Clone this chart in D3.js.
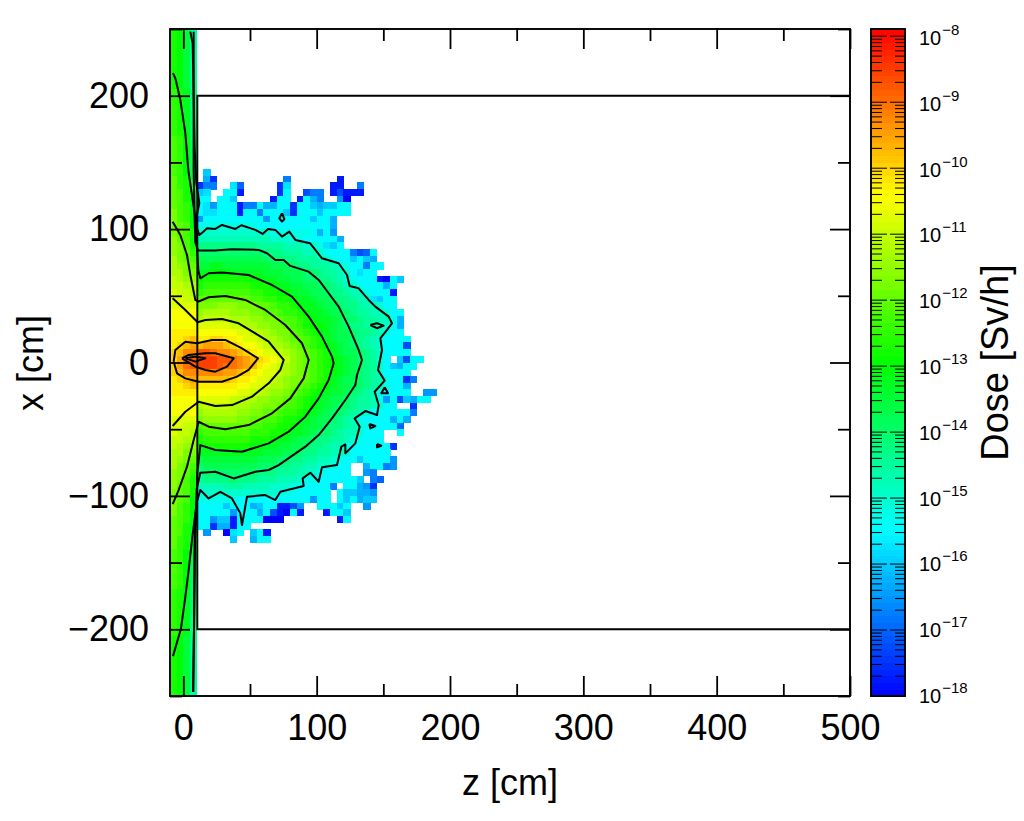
<!DOCTYPE html>
<html>
<head>
<meta charset="utf-8">
<script src="https://cdn.jsdelivr.net/npm/d3@7"></script>
<style>
  html, body { margin: 0; padding: 0; background: #fff; }
  text { font-family: "Liberation Sans", Arial, sans-serif; fill: #000; }
</style>
</head>
<body>
<div id="chart"></div>
<script>
// level characters: index in this alphabet * 0.25 decades above 10^-18, "." = no score
const levelAlphabet = "0123456789abcdefghijklmnopqrstuvwxyzABCD";
const levelStep = 0.25;
const cellSize = 5;

// the four columns in front of the wall, z = -10 .. 10, rows x = 250 .. -250
const frontColumnStarts = [-10, -5, 0, 5];
const frontColumn0 = "lllllllllmmmmmmmnnnnnnoooooppppqqqrrrsstttuuuvvvwwwwvvvuuutttssrrrqqqppppooooonnnnnnmmmmmmmlllllllll";
const frontColumn1 = "kkkkkkkkklllllllmmmmmmmmnnnnnooopppqrrssttuuuvvwxyyxwvvuuuttssrrqpppooonnnnnmmmmmmmmlllllllkkkkkkkkk";
const frontColumn2 = "iiiiiiiiijjjjjjjkkkkkkllllmmmnnnnooppqrsstuuuvwxzAAzxwvuuutssrqppoonnnnmmmllllkkkkkkjjjjjjjiiiiiiiii";
const frontColumn3 = "eeeeeeeeffffggggghhhhiiijjjkkklllmnopqrrstuuuvxyzBBzyxvuuutsrrqponmlllkkkjjjiiihhhhgggggffffeeeeeeee";

// scored cells behind the wall, first column z = 10, first row top edge x = 145
const bodyFirstZ = 10;
const bodyTopX = 145;
const bodyRows = [
  ".8.................................",
  ".72..........5.......1.............",
  "255..94.....29......11..5..........",
  "89..aa1.....2a..355.13111..........",
  "aa.aa8.....1aa.1a75..60............",
  "a96aaa155a77aa2aa8788aa............",
  "a99aaa1aa5aaa82aaa8aaaa............",
  "6aaaaaaaaa6aaaaaa8aa7..............",
  "bbbbbbbbbaaaaaaaaaaa7..............",
  "cccccccccccbbbbbba7a6..............",
  "dddddddddddcccbbaaaaa7.............",
  "fffffffffeeeedddccb98a.............",
  "ggggggggggfffeeeddcbaaa534a........",
  "hhhhhhhhhhgggffeeedcbaa8a87........",
  "iijjiiiiiiihhhgffeeedcbaa5aa.......",
  "jjkkkjjjjjiiihhhggfeedca9aa........",
  "klllllllkkjjiihhggffedcbaaa10a8....",
  "lmmmmmmmlllkjjiihhggfedcbaaa7a.....",
  "mnnnnnnnmmllkkjiihhgffeddbaaa1.....",
  "oooooooonnmmllkjjihhgffedd98aa.....",
  "pppqqqpppoonmmlkjjihhgffeddcaa.....",
  "qrrrrqqqppoonmmlkjjihhgfeeddcaa....",
  "rssssrrrqqpponnmlkjjihggfeeddb7....",
  "tttttssrrqqpponmlkkjihgffeedcb7....",
  "uuuuuuttssrqpponmlkjihhgffedbaa....",
  "vvwwvvuttsrrqpoonmljihhgfedcaaaa...",
  "xyyyxwvuutsrrqponmlkjihgfedcaaa3...",
  "BBAzzyxwvuttsrqponmljihhgfecaaaa...",
  "CCCBBAzyxwvutsqponmlkjihgfeca.83aa.",
  "CCCBAAzyxvutsrqponmlkjihgfeca87aa..",
  "zzzzyyxwvuttsrqponmlkjihgfecaaaa...",
  "xxxxxwvvuttsrqpponmljihhgfedbaa25..",
  "vvvvvvuuttsrrqponmlkjihhgfedbaa7...",
  "uuuuuuttssrqqponmlkjiihgfedbaaaa..66",
  "tttttssrrqqpponmlkjihhgfeedb6a387aa",
  "rssssrrrqqpponnmlkjihggfeedcaa..2..",
  "qrrrrrqqppoonmmlkjihggfedcaaaaaa5..",
  "pqqqqqppoonnmllkjihhgfedbaaaa7a7...",
  "nooooooonnmmllkjiihgffedcbaaaa4....",
  "mnnnnnnnmmmllkjjihggfeddcaaa..a....",
  "lmmmmmmmlllkjjihhgffeedcbaaa.......",
  "klllllllkkjjiihhgffeddbaaaaaa2.....",
  "jjjjjjjjjjiiihhgffeeddcaaaaaa......",
  "hiiiiiiiihhhggffeeddcbaa8aaaa6.....",
  "ghhhhhhhhgggffeeddccbaa..7aa56.....",
  "fggggggggfffeeeddcbaaaa..65........",
  "effffgfffeeedddcbbaaaaaa8.54.......",
  "ddddeeeddddcccbbaaaa5.aa762........",
  "bcccccccccccbbbaaaaa.a88776........",
  "bbbbbbaaaaaaaaaaa6aa.a8a788........",
  "aaaa8aaa78aa1136..aaa8a..6.........",
  "aaaaa6aaa7a310a1...1aa8............",
  "aa6881aaaa000........1a............",
  "aa2771aa...........................",
  ".6..09a.8a1........................",
  ".....8..7aa........................"
];

// contour lines, [z, x] in cm
const contour1e15 = [[5.25,248],[7,239],[7.75,200],[8.5,160],[9.75,134.6],[12,119.5],[9.5,107],[10.5,100],[12,95.6],[15,98],[17.75,100.6],[24,100.1],[29,103.1],[39,100.1],[43.5,102.9],[54,99.4],[59.5,96.4],[63.5,100.1],[69,99.4],[74,94.4],[79.5,98.1],[84,91.9],[95,89.4],[104,78.1],[116.5,74.4],[122.75,65.6],[124.75,57.4],[131.5,55.6],[139,46.9],[144,41.9],[154,34.4],[156.5,29.4],[152.75,24.4],[147.75,18.1],[149,9.4],[146,-5.6],[151,-13.6],[143.5,-21.9],[146.5,-31.9],[145.25,-39.4],[136.5,-36.4],[128.5,-41.9],[132.25,-48.1],[129,-60.6],[121.5,-68.1],[121.5,-61.4],[118.5,-63.1],[115.25,-76.9],[104,-78.6],[101.5,-89.4],[95.25,-82.6],[89.5,-86.9],[90.25,-92.6],[72.75,-96.9],[69,-103.1],[61.5,-99.4],[47.75,-100.6],[44,-121.9],[42.75,-113.1],[36.5,-101.9],[27.75,-96.9],[19,-101.9],[12.75,-95.6],[10,-105],[8.5,-133],[8,-200],[7.5,-247]];
const contour1e15Island0 = [[74,111.9],[75.75,107.4],[74,105.6],[72,108.1],[74,111.9]];
const contour1e15Island1 = [[140.25,28.1],[145.25,29.4],[150.25,27.6],[145.25,25.7],[140.25,28.1]];
const contour1e15Island2 = [[151,-18.6],[153.5,-23.1],[148.5,-23.1],[151,-18.6]];
const contour1e15Island3 = [[139.5,-46.1],[144,-47.6],[140.25,-49.4],[139.5,-46.1]];
const contour1e15Island4 = [[145.25,-61.1],[148.5,-62.4],[145.25,-63.6],[145.25,-61.1]];
const contour1e14 = [[7.75,248],[7.75,144],[8.5,107],[9,90],[11,84],[12.75,83.9],[24,83.9],[36.5,84.9],[56.5,84.4],[62.75,81.9],[69,76.9],[75.25,76.9],[80.25,72.4],[94,68.1],[101.5,61.9],[109,51.9],[116.5,41.9],[124,26.9],[131.5,9.4],[134,1.9],[130.25,-9.4],[129,-16.9],[121.5,-28.1],[111.5,-41.9],[101.5,-54.4],[91.5,-63.1],[71.5,-76.9],[64,-80.6],[54,-81.9],[37.75,-86.9],[24,-81.9],[12.75,-82.6],[10,-95],[8.75,-133],[8,-200],[7.25,-247]];
const contour1e13 = [[-7.75,216.9],[-6,213.1],[-2.25,196.9],[1.5,171.9],[3.75,144],[9.2,107],[11.25,69],[12.75,63.1],[19,66.9],[29,67.4],[49,65.6],[66.5,58.1],[81.5,49.4],[94,34.4],[104,19.4],[111.5,4.4],[112.75,-0.6],[109,-13.1],[101.5,-26.9],[91.5,-40.6],[79,-51.9],[64,-60.6],[44,-66.9],[24,-65.6],[12.75,-61.9],[10.25,-85.6],[10.25,-103.1],[6.5,-133.1],[4,-155.6],[1.5,-175.6],[-1.75,-199.4],[-7.75,-220.1]];
const contour1e12 = [[-8,105.6],[-2.25,95.6],[2.75,80.6],[5.25,65.6],[9,46.9],[11.5,45.7],[19,48.9],[31.5,49.9],[46.5,46.9],[61.5,39.4],[76.5,28.1],[89,14.4],[94,1.9],[90.25,-11.9],[80.25,-26.9],[66.5,-38.1],[49,-46.9],[31.5,-50.1],[19,-48.1],[11.5,-44.4],[7.75,-58.1],[2.75,-78.1],[-3.5,-95.6],[-8,-106.1]];
const contour1e11 = [[-8,48.1],[1.5,39.4],[10.75,30.2],[16.5,31.9],[29,32.6],[41.5,29.4],[54,21.9],[64,15.6],[69,9.4],[75.25,1.9],[72.75,-5.6],[64,-15.6],[51.5,-25.6],[36.5,-31.9],[24,-32.6],[11.5,-29.4],[1.5,-36.9],[-8,-47.6]];
const contour1e10 = [[-7.25,0.65],[-6,9.4],[1.5,15.6],[10.25,14.4],[21.5,16.9],[31.5,16.9],[44,10.6],[56,3.15],[49,-5.6],[40.25,-10.6],[29,-14.4],[11.5,-14.4],[1.5,-11.9],[-4.75,-8.1],[-7.25,0.65]];
const contour1e9 = [[-1,3.15],[4,5.65],[16.5,6.9],[24,6.9],[37.75,3.15],[32.75,-3.1],[24,-6.9],[16.5,-5.6],[9,-3.1],[-1,3.15]];
const contour1e8 = [[1.5,3.15],[9,4.4],[16.5,3.15],[9,0.65],[1.5,3.15]];

// wall outline, [z, x] in cm
const wallOutline = [[500,200],[10.5,200],[10.5,-200],[500,-200]];

// axis ticks
const zMajorTicks = [0, 100, 200, 300, 400, 500];
const zMinorTicks = [50, 150, 250, 350, 450];
const xMajorTicks = [-200, -100, 0, 100, 200];
const xMinorTicks = [-250, -150, -50, 50, 150, 250];
const doseDecades = [-18, -17, -16, -15, -14, -13, -12, -11, -10, -9, -8];
const minorFactors = [2, 3, 4, 5, 6, 7, 8, 9];

const width = 1024, height = 821;
const frame = { left: 170, right: 850, top: 29, bottom: 696 };
const bar = { left: 871, right: 905, top: 29, bottom: 696 };

const zScale = d3.scaleLinear().domain([-10, 500]).range([frame.left, frame.right]);
const xScale = d3.scaleLinear().domain([-250, 250]).range([frame.bottom, frame.top]);
const barMaxLog = -7.89;
const doseScale = d3.scaleLinear().domain([-18, barMaxLog]).range([bar.bottom, bar.top]);
const labelScale = d3.scaleLinear().domain([-18, -8]).range([703, 45]);

// blue-cyan-green-yellow-red in equal parts of the bar
const colorScale = d3.scaleLinear()
  .domain(d3.range(5).map(i => -18 + (i * (barMaxLog + 18)) / 4))
  .range(["#0000ff", "#00ffff", "#00ff00", "#ffff00", "#ff0000"])
  .clamp(true);

const levelToLog = ch => -18 + levelAlphabet.indexOf(ch) * levelStep;

const svg = d3.select("#chart").append("svg")
  .attr("width", width)
  .attr("height", height)
  .style("display", "block");

//front columns
const frontColumns = [frontColumn0, frontColumn1, frontColumn2, frontColumn3];
const cells = [];
frontColumns.forEach((col, i) => {
  Array.from(col).forEach((ch, r) => {
    cells.push({ z: frontColumnStarts[i], x: 250 - r * cellSize, ch });
  });
});
//cells behind the wall
bodyRows.forEach((row, r) => {
  Array.from(row).forEach((ch, c) => {
    if (ch === ".") return;
    cells.push({ z: bodyFirstZ + c * cellSize, x: bodyTopX - r * cellSize, ch });
  });
});

svg.append("g")
  .attr("shape-rendering", "crispEdges")
  .selectAll("rect")
  .data(cells)
  .enter()
  .append("rect")
  .attr("x", d => zScale(d.z))
  .attr("y", d => xScale(d.x))
  .attr("width", d => zScale(d.z + cellSize) - zScale(d.z) + 0.5)
  .attr("height", d => xScale(d.x - cellSize) - xScale(d.x) + 0.5)
  .attr("fill", d => colorScale(levelToLog(d.ch)));

//contours
const line = d3.line().x(d => zScale(d[0])).y(d => xScale(d[1]));
const contours = [
  contour1e15, contour1e15Island0, contour1e15Island1, contour1e15Island2,
  contour1e15Island3, contour1e15Island4, contour1e14, contour1e13,
  contour1e12, contour1e11, contour1e10, contour1e9, contour1e8
];
svg.append("g")
  .selectAll("path")
  .data(contours)
  .enter()
  .append("path")
  .attr("d", line)
  .attr("fill", "none")
  .attr("stroke", "#000")
  .attr("stroke-width", 2)
  .attr("stroke-linejoin", "round");

svg.append("path")
  .attr("d", line(wallOutline))
  .attr("fill", "none")
  .attr("stroke", "#000")
  .attr("stroke-width", 1.9);

//axes
const majorLen = 20, minorLen = 12;
const styleAxis = g => {
  g.select(".domain").remove();
  g.selectAll("line").attr("stroke", "#000").attr("stroke-width", 1.8);
  g.selectAll("text").attr("font-size", 36).attr("fill", "#000")
    .style("font-family", '"Liberation Sans", Arial, sans-serif');
};
const addAxis = (axis, translate, ticks, size, labelled, pad) => {
  const a = axis.tickValues(ticks).tickSize(size).tickPadding(pad || 0);
  if (!labelled) a.tickFormat("");
  svg.append("g").attr("transform", translate).call(a).call(styleAxis);
};
addAxis(d3.axisBottom(zScale), `translate(0,${frame.bottom})`, zMajorTicks, -majorLen, true, 18);
addAxis(d3.axisBottom(zScale), `translate(0,${frame.bottom})`, zMinorTicks, -minorLen, false);
addAxis(d3.axisTop(zScale), `translate(0,${frame.top})`, zMajorTicks, -majorLen, false);
addAxis(d3.axisTop(zScale), `translate(0,${frame.top})`, zMinorTicks, -minorLen, false);
addAxis(d3.axisLeft(xScale), `translate(${frame.left},0)`, xMajorTicks, -majorLen, true, 21);
addAxis(d3.axisLeft(xScale), `translate(${frame.left},0)`, xMinorTicks, -minorLen, false);
addAxis(d3.axisRight(xScale), `translate(${frame.right},0)`, xMajorTicks, -majorLen, false);
addAxis(d3.axisRight(xScale), `translate(${frame.right},0)`, xMinorTicks, -minorLen, false);

svg.append("rect")
  .attr("x", frame.left)
  .attr("y", frame.top)
  .attr("width", frame.right - frame.left)
  .attr("height", frame.bottom - frame.top)
  .attr("fill", "none")
  .attr("stroke", "#000")
  .attr("stroke-width", 1.9);

//axis titles
svg.append("text")
  .attr("x", 510)
  .attr("y", 795)
  .attr("text-anchor", "middle")
  .attr("font-size", 36)
  .text("z [cm]");
svg.append("text")
  .attr("transform", "translate(43,363) rotate(-90)")
  .attr("text-anchor", "middle")
  .attr("font-size", 36)
  .text("x [cm]");
svg.append("text")
  .attr("transform", "translate(1008,362.5) rotate(-90)")
  .attr("text-anchor", "middle")
  .attr("font-size", 38)
  .text("Dose [Sv/h]");

//colour bar
const bandCount = 100;
const bandLogs = d3.range(bandCount).map(i => -18 + (i * (barMaxLog + 18)) / bandCount);
const bandHeight = (barMaxLog + 18) / bandCount;
svg.append("g")
  .attr("shape-rendering", "crispEdges")
  .selectAll("rect")
  .data(bandLogs)
  .enter()
  .append("rect")
  .attr("x", bar.left)
  .attr("width", bar.right - bar.left)
  .attr("y", d => doseScale(d + bandHeight))
  .attr("height", d => doseScale(d) - doseScale(d + bandHeight) + 0.5)
  .attr("fill", d => colorScale(d + bandHeight / 2));

const barLine = (g, y, x1, x2) => g.append("line")
  .attr("x1", x1).attr("x2", x2).attr("y1", y).attr("y2", y)
  .attr("stroke", "#000").attr("stroke-width", 1);

const barTicks = svg.append("g");
doseDecades.forEach(dec => {
  barLine(barTicks, doseScale(dec), bar.left, 887);
  barLine(barTicks, doseScale(dec), 890, bar.right);
  if (dec === -8) return;
  minorFactors.forEach(k => {
    const y = doseScale(dec + Math.log10(k));
    barLine(barTicks, y, bar.left, 882);
    barLine(barTicks, y, 895, bar.right);
  });
});

svg.append("rect")
  .attr("x", bar.left)
  .attr("y", bar.top)
  .attr("width", bar.right - bar.left)
  .attr("height", bar.bottom - bar.top)
  .attr("fill", "none")
  .attr("stroke", "#000")
  .attr("stroke-width", 1.9);

//colour bar labels
const labels = svg.append("g").selectAll("text").data(doseDecades).enter().append("text")
  .attr("x", 919)
  .attr("y", d => labelScale(d))
  .attr("font-size", 20);
labels.append("tspan").text("10");
labels.append("tspan")
  .attr("font-size", 15)
  .attr("dx", 1)
  .attr("dy", -10)
  .text(d => "\u2212" + Math.abs(d));
</script>
</body>
</html>
